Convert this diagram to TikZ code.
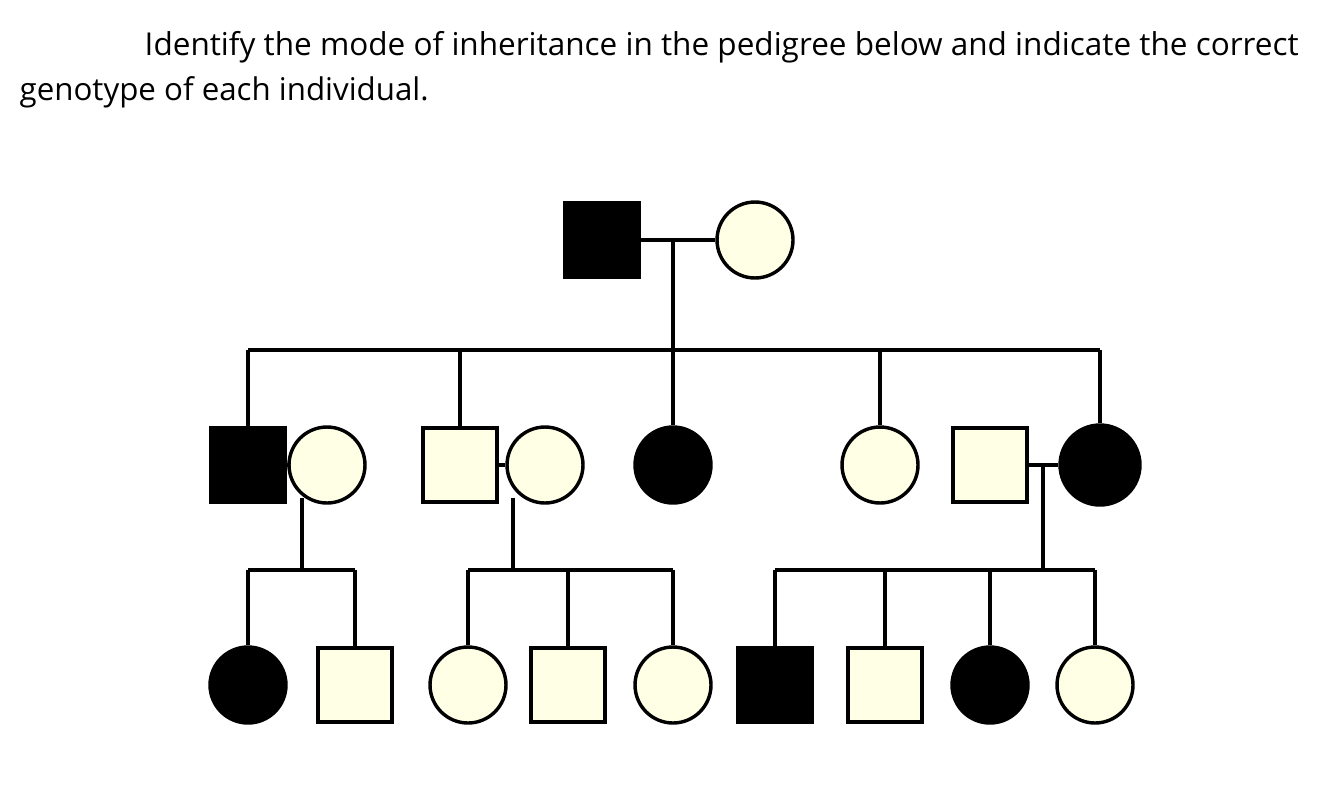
\documentclass[tikz,border=0pt]{standalone}
\usepackage{fontspec}
\setmainfont{Open Sans}
\begin{document}
\begin{tikzpicture}[x=0.02cm,y=-0.02cm,line width=2.6pt*0.75,
  cr/.style={fill=cream},
  msq/.style={draw,rectangle,minimum size=1.48cm,inner sep=0pt},
  fsq/.style={circle,draw,minimum size=1.52cm,inner sep=0pt}]
\definecolor{cream}{HTML}{FFFFE6}
\useasboundingbox (0,0) rectangle (1324,788);
\node[anchor=base west,inner sep=0pt] (t1) at (143,55) {\resizebox{23.08cm}{!}{Identify the mode of inheritance in the pedigree below and indicate the correct}};
\node[anchor=base west,inner sep=0pt] (t2) at (18,100) {\resizebox{8.18cm}{!}{genotype of each individual.}};
% Gen I
\node[msq,fill=black] (a) at (602,240) {};
\node[fsq,cr] (b) at (755,240) {};
% Gen II
\node[msq,fill=black] (c1) at (248,465) {};
\node[fsq,cr] (c2) at (327,465) {};
\node[msq,cr] (c3) at (460,465) {};
\node[fsq,cr] (c4) at (545,465) {};
\node[fsq,fill=black] (c5) at (673,465) {};
\node[fsq,cr] (c6) at (880,465) {};
\node[msq,cr] (c7) at (990,465) {};
\node[fsq,fill=black,minimum size=1.6cm] (c8) at (1100,465) {};
% Gen III
\node[fsq,fill=black] (d1) at (248,685) {};
\node[msq,cr] (d2) at (355,685) {};
\node[fsq,cr] (d3) at (468,685) {};
\node[msq,cr] (d4) at (568,685) {};
\node[fsq,cr] (d5) at (673,685) {};
\node[msq,fill=black] (d6) at (775,685) {};
\node[msq,cr] (d7) at (885,685) {};
\node[fsq,fill=black] (d8) at (990,685) {};
\node[fsq,cr] (d9) at (1095,685) {};
% lines
\draw (a.east) -- (b.west);
\coordinate (m1) at (673,240);
\draw (m1) -- (673,350);
\draw (248,350) -- (1100,350);
\foreach \n in {c1,c3,c5,c6,c8} \draw (\n.north |- 0,350) -- (\n.north);
\draw (c1.east) -- (c2.west);
\draw (c3.east) -- (c4.west);
\draw (c7.east) -- (c8.west);
\draw (302,498) -- (302,570);
\draw (513,498) -- (513,570);
\draw (1043,465) -- (1043,570);
\draw (248,570) -- (355,570);
\draw (468,570) -- (673,570);
\draw (775,570) -- (1095,570);
\foreach \n in {d1,d2,d3,d4,d5,d6,d7,d8,d9} \draw (\n.north |- 0,570) -- (\n.north);
\end{tikzpicture}
\end{document}
